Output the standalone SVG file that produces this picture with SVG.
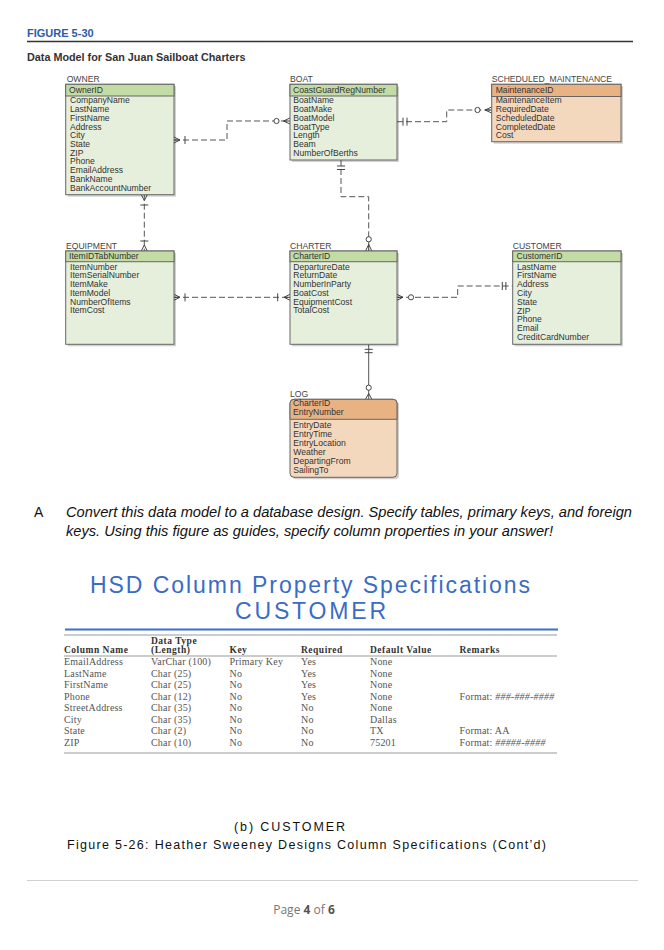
<svg xmlns="http://www.w3.org/2000/svg" width="664" height="950" viewBox="0 0 664 950">
<style>
.ent{font-family:"Liberation Sans",Arial,sans-serif;font-size:8.6px;fill:#444}
.att{font-family:"Liberation Sans",Arial,sans-serif;font-size:8.6px;fill:#333}
.shadow{fill:#000;opacity:0.18}
.gb{fill:#e6efdc;stroke:#666;stroke-width:1}
.gh{fill:#c3dba5;stroke:#666;stroke-width:1}
.ob{fill:#f4d8bd;stroke:#666;stroke-width:1}
.oh{fill:#e8b283;stroke:#666;stroke-width:1}
.con{fill:none;stroke:#555;stroke-width:1;stroke-dasharray:6,3}
.sol{fill:none;stroke:#555;stroke-width:1}
.sym{fill:none;stroke:#444;stroke-width:1}
.circ{fill:#fff;stroke:#444;stroke-width:1}
.th{font-family:"Liberation Serif","Times New Roman",serif;font-size:9.5px;font-weight:bold;fill:#333;letter-spacing:0.5px}
.td{font-family:"Liberation Serif","Times New Roman",serif;font-size:10px;fill:#555;letter-spacing:0.2px}
</style>

<!-- header -->
<text x="27" y="37" font-family="Liberation Sans, Arial, sans-serif" font-size="11" font-weight="bold" fill="#2b5ca8">FIGURE 5-30</text>
<line x1="27" y1="41.5" x2="633" y2="41.5" stroke="#333" stroke-width="1.5"/>
<text x="27" y="61" font-family="Liberation Sans, Arial, sans-serif" font-size="10.8" font-weight="bold" fill="#333">Data Model for San Juan Sailboat Charters</text>

<!-- connectors -->
<g id="connectors">
  <!-- OWNER - BOAT -->
  <path class="con" d="M174,140 H227 V121 H290"/>
  <path class="sym" d="M174,137 L180,140 L174,143 M174,140 H180 M185,136 V144"/>
  <path class="sym" d="M290,118 L283.5,121 L290,124 M283.5,121 H290"/>
  <circle class="circ" cx="276.5" cy="121" r="2.6"/>
  <!-- BOAT - SCHEDULED_MAINTENANCE -->
  <path class="con" d="M397,121.7 H446.7 V110 H491.7"/>
  <path class="sym" d="M403,117.7 V125.7 M407,117.7 V125.7"/>
  <path class="sym" d="M491.7,107 L485,110 L491.7,113 M485,110 H491.7"/>
  <circle class="circ" cx="477.5" cy="110" r="2.6"/>
  <!-- BOAT - CHARTER -->
  <path class="con" d="M341,160 V196.7 H368.7 V251"/>
  <path class="sym" d="M337,166 H345 M337,169.5 H345"/>
  <path class="sym" d="M365.5,251 L368.7,244.5 L371.9,251 M368.7,244.5 V251"/>
  <circle class="circ" cx="368.7" cy="239.3" r="2.6"/>
  <!-- OWNER - EQUIPMENT -->
  <path class="con" d="M144.3,194.7 V251"/>
  <path class="sym" d="M141.3,194.7 L144.3,200.5 L147.3,194.7 M140.3,205 H148.3"/>
  <path class="sym" d="M140.3,241 H148.3 M141.3,251 L144.3,245 L147.3,251"/>
  <!-- EQUIPMENT - CHARTER -->
  <path class="con" d="M174,297.3 H290"/>
  <path class="sym" d="M174,294.3 L180,297.3 L174,300.3 M174,297.3 H180 M185,293.3 V301.3"/>
  <path class="sym" d="M277.7,293.3 V301.3 M290,294.3 L284,297.3 L290,300.3 M284,297.3 H290"/>
  <!-- CHARTER - CUSTOMER -->
  <path class="con" d="M397,297.3 H457.7 V286 H512.7"/>
  <path class="sym" d="M397,294.3 L403,297.3 L397,300.3 M397,297.3 H403"/>
  <circle class="circ" cx="411" cy="297.3" r="2.6"/>
  <path class="sym" d="M502.3,282 V290 M505.9,282 V290"/>
  <!-- CHARTER - LOG -->
  <path class="sol" d="M368.7,344.3 V399.3"/>
  <path class="sym" d="M364.7,349.3 H372.7 M364.7,352.7 H372.7"/>
  <path class="sym" d="M365.5,399.3 L368.7,393.5 L371.9,399.3"/>
  <circle class="circ" cx="368.7" cy="387.7" r="2.6"/>
</g>

<!-- OWNER -->
<g id="owner">
  <text class="ent" x="66.7" y="82.3">OWNER</text>
  <rect class="shadow" x="67.7" y="86.3" width="108.3" height="110.4"/>
  <rect class="gb" x="65.7" y="84.3" width="108.3" height="110.4"/>
  <rect class="gh" x="65.7" y="84.3" width="108.3" height="11.7"/>
  <text class="att" x="69" y="92.7">OwnerID</text>
  <text class="att">
    <tspan x="70" y="103.3">CompanyName</tspan>
    <tspan x="70" dy="8.74">LastName</tspan>
    <tspan x="70" dy="8.74">FirstName</tspan>
    <tspan x="70" dy="8.74">Address</tspan>
    <tspan x="70" dy="8.74">City</tspan>
    <tspan x="70" dy="8.74">State</tspan>
    <tspan x="70" dy="8.74">ZIP</tspan>
    <tspan x="70" dy="8.74">Phone</tspan>
    <tspan x="70" dy="8.74">EmailAddress</tspan>
    <tspan x="70" dy="8.74">BankName</tspan>
    <tspan x="70" dy="8.74">BankAccountNumber</tspan>
  </text>
</g>

<!-- BOAT -->
<g id="boat">
  <text class="ent" x="290" y="82.3">BOAT</text>
  <rect class="shadow" x="292" y="86.3" width="107" height="75.7"/>
  <rect class="gb" x="290" y="84.3" width="107" height="75.7"/>
  <rect class="gh" x="290" y="84.3" width="107" height="11.7"/>
  <text class="att" x="293" y="92.7">CoastGuardRegNumber</text>
  <text class="att">
    <tspan x="293.3" y="103.3">BoatName</tspan>
    <tspan x="293.3" dy="8.78">BoatMake</tspan>
    <tspan x="293.3" dy="8.78">BoatModel</tspan>
    <tspan x="293.3" dy="8.78">BoatType</tspan>
    <tspan x="293.3" dy="8.78">Length</tspan>
    <tspan x="293.3" dy="8.78">Beam</tspan>
    <tspan x="293.3" dy="8.78">NumberOfBerths</tspan>
  </text>
</g>

<!-- SCHEDULED_MAINTENANCE -->
<g id="scheduled_maintenance">
  <text class="ent" x="491.7" y="82.3">SCHEDULED_MAINTENANCE</text>
  <rect class="shadow" x="493.7" y="86.3" width="129.3" height="57.4"/>
  <rect class="ob" x="491.7" y="84.3" width="129.3" height="57.4"/>
  <rect class="oh" x="491.7" y="84.3" width="129.3" height="12.2"/>
  <text class="att" x="495.7" y="92.7">MaintenanceID</text>
  <text class="att">
    <tspan x="495.7" y="103.3">MaintenanceItem</tspan>
    <tspan x="495.7" dy="8.75">RequiredDate</tspan>
    <tspan x="495.7" dy="8.75">ScheduledDate</tspan>
    <tspan x="495.7" dy="8.75">CompletedDate</tspan>
    <tspan x="495.7" dy="8.75">Cost</tspan>
  </text>
</g>

<!-- EQUIPMENT -->
<g id="equipment">
  <text class="ent" x="66" y="249">EQUIPMENT</text>
  <rect class="shadow" x="67.7" y="253" width="108.3" height="93.3"/>
  <rect class="gb" x="65.7" y="251" width="108.3" height="93.3"/>
  <rect class="gh" x="65.7" y="251" width="108.3" height="10.7"/>
  <text class="att" x="69" y="258.7">ItemIDTabNumber</text>
  <text class="att">
    <tspan x="70" y="269.7">ItemNumber</tspan>
    <tspan x="70" dy="8.73">ItemSerialNumber</tspan>
    <tspan x="70" dy="8.73">ItemMake</tspan>
    <tspan x="70" dy="8.73">ItemModel</tspan>
    <tspan x="70" dy="8.73">NumberOfItems</tspan>
    <tspan x="70" dy="8.73">ItemCost</tspan>
  </text>
</g>

<!-- CHARTER -->
<g id="charter">
  <text class="ent" x="290" y="249">CHARTER</text>
  <rect class="shadow" x="292" y="253" width="107" height="93.3"/>
  <rect class="gb" x="290" y="251" width="107" height="93.3"/>
  <rect class="gh" x="290" y="251" width="107" height="10.7"/>
  <text class="att" x="293" y="258.7">CharterID</text>
  <text class="att">
    <tspan x="293.3" y="269.7">DepartureDate</tspan>
    <tspan x="293.3" dy="8.73">ReturnDate</tspan>
    <tspan x="293.3" dy="8.73">NumberInParty</tspan>
    <tspan x="293.3" dy="8.73">BoatCost</tspan>
    <tspan x="293.3" dy="8.73">EquipmentCost</tspan>
    <tspan x="293.3" dy="8.73">TotalCost</tspan>
  </text>
</g>

<!-- CUSTOMER -->
<g id="customer">
  <text class="ent" x="512.7" y="249">CUSTOMER</text>
  <rect class="shadow" x="514.7" y="253" width="108.3" height="93.3"/>
  <rect class="gb" x="512.7" y="251" width="108.3" height="93.3"/>
  <rect class="gh" x="512.7" y="251" width="108.3" height="10.7"/>
  <text class="att" x="516.5" y="258.7">CustomerID</text>
  <text class="att">
    <tspan x="517" y="269.7">LastName</tspan>
    <tspan x="517" dy="8.79">FirstName</tspan>
    <tspan x="517" dy="8.79">Address</tspan>
    <tspan x="517" dy="8.79">City</tspan>
    <tspan x="517" dy="8.79">State</tspan>
    <tspan x="517" dy="8.79">ZIP</tspan>
    <tspan x="517" dy="8.79">Phone</tspan>
    <tspan x="517" dy="8.79">Email</tspan>
    <tspan x="517" dy="8.79">CreditCardNumber</tspan>
  </text>
</g>

<!-- LOG -->
<g id="log">
  <text class="ent" x="290" y="396.7">LOG</text>
  <rect class="shadow" x="292" y="401.3" width="107" height="78" rx="4"/>
  <rect class="ob" x="290" y="399.3" width="107" height="78" rx="4"/>
  <path class="oh" d="M294,399.3 H393 A4,4 0 0 1 397,403.3 V419.3 H290 V403.3 A4,4 0 0 1 294,399.3 Z"/>
  <text class="att">
    <tspan x="293" y="406">CharterID</tspan>
    <tspan x="293" y="415">EntryNumber</tspan>
  </text>
  <text class="att">
    <tspan x="293.3" y="428.3">EntryDate</tspan>
    <tspan x="293.3" dy="9">EntryTime</tspan>
    <tspan x="293.3" dy="9">EntryLocation</tspan>
    <tspan x="293.3" dy="9">Weather</tspan>
    <tspan x="293.3" dy="9">DepartingFrom</tspan>
    <tspan x="293.3" dy="9">SailingTo</tspan>
  </text>
</g>

<!-- Question -->
<g id="question" font-family="Liberation Sans, Arial, sans-serif" font-size="14" fill="#111">
  <text x="34" y="517">A</text>
  <text x="66" y="517" font-style="italic" textLength="566" lengthAdjust="spacingAndGlyphs">Convert this data model to a database design. Specify tables, primary keys, and foreign</text>
  <text x="66" y="536" font-style="italic" textLength="487" lengthAdjust="spacingAndGlyphs">keys. Using this figure as guides, specify column properties in your answer!</text>
</g>

<!-- HSD table -->
<g id="hsd_title" font-family="Liberation Sans, Arial, sans-serif" font-size="23" fill="#3a6cc4">
  <text x="90" y="593" textLength="440" lengthAdjust="spacing">HSD Column Property Specifications</text>
  <text x="235" y="619" textLength="151" lengthAdjust="spacing">CUSTOMER</text>
</g>
<g id="hsd_table">
  <line x1="65" y1="629.5" x2="558" y2="629.5" stroke="#3b6fd0" stroke-width="2"/>
  <line x1="64" y1="635" x2="557" y2="635" stroke="#999" stroke-width="1"/>
  <line x1="64" y1="656" x2="557" y2="656" stroke="#999" stroke-width="1"/>
  <line x1="64" y1="753" x2="557" y2="753" stroke="#999" stroke-width="1"/>
  <text class="th" x="151" y="643.5">Data Type</text>
  <text class="th" x="64" y="653.2">Column Name</text>
  <text class="th" x="151" y="653.2">(Length)</text>
  <text class="th" x="229.5" y="653.2">Key</text>
  <text class="th" x="301" y="653.2">Required</text>
  <text class="th" x="370" y="653.2">Default Value</text>
  <text class="th" x="459.5" y="653.2">Remarks</text>
  <g class="td">
    <text x="64" y="665">EmailAddress</text><text x="151" y="665">VarChar (100)</text><text x="229.5" y="665">Primary Key</text><text x="301" y="665">Yes</text><text x="370" y="665">None</text>
    <text x="64" y="676.5">LastName</text><text x="151" y="676.5">Char (25)</text><text x="229.5" y="676.5">No</text><text x="301" y="676.5">Yes</text><text x="370" y="676.5">None</text>
    <text x="64" y="688">FirstName</text><text x="151" y="688">Char (25)</text><text x="229.5" y="688">No</text><text x="301" y="688">Yes</text><text x="370" y="688">None</text>
    <text x="64" y="699.5">Phone</text><text x="151" y="699.5">Char (12)</text><text x="229.5" y="699.5">No</text><text x="301" y="699.5">Yes</text><text x="370" y="699.5">None</text><text x="459.5" y="699.5">Format: <tspan font-style="italic">###-###-####</tspan></text>
    <text x="64" y="711">StreetAddress</text><text x="151" y="711">Char (35)</text><text x="229.5" y="711">No</text><text x="301" y="711">No</text><text x="370" y="711">None</text>
    <text x="64" y="722.5">City</text><text x="151" y="722.5">Char (35)</text><text x="229.5" y="722.5">No</text><text x="301" y="722.5">No</text><text x="370" y="722.5">Dallas</text>
    <text x="64" y="734">State</text><text x="151" y="734">Char (2)</text><text x="229.5" y="734">No</text><text x="301" y="734">No</text><text x="370" y="734">TX</text><text x="459.5" y="734">Format: AA</text>
    <text x="64" y="745.5">ZIP</text><text x="151" y="745.5">Char (10)</text><text x="229.5" y="745.5">No</text><text x="301" y="745.5">No</text><text x="370" y="745.5">75201</text><text x="459.5" y="745.5">Format: <tspan font-style="italic">#####-####</tspan></text>
  </g>
</g>

<!-- captions -->
<g id="captions" font-family="Liberation Sans, Arial, sans-serif" font-size="12.5" fill="#111">
  <text x="234" y="831" textLength="111" lengthAdjust="spacing">(b) CUSTOMER</text>
  <text x="67" y="849" textLength="479" lengthAdjust="spacing">Figure 5-26: Heather Sweeney Designs Column Specifications (Cont’d)</text>
</g>
<line x1="27" y1="880.5" x2="638" y2="880.5" stroke="#d0d0d0" stroke-width="1"/>
<text x="304" y="914" text-anchor="middle" font-family="Open Sans, Liberation Sans, sans-serif" font-size="12" fill="#777">Page <tspan font-weight="bold" fill="#555">4</tspan> of <tspan font-weight="bold" fill="#555">6</tspan></text>
</svg>
